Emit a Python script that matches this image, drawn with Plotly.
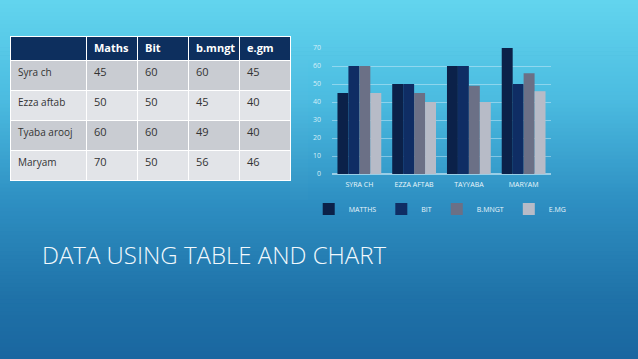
import plotly.graph_objects as go

# ---- data ----
students = ["Syra ch", "Ezza aftab", "Tyaba arooj", "Maryam"]
subjects = ["Maths", "Bit", "b.mngt", "e.gm"]
maths = [45, 50, 60, 70]
bit = [60, 50, 60, 50]
bmngt = [60, 45, 49, 56]
egm = [45, 40, 40, 46]

chart_categories = ["SYRA CH", "EZZA AFTAB", "TAYYABA", "MARYAM"]
legend_names = ["MATTHS", "BIT", "B.MNGT", "E.MG"]
y_ticks = [0, 10, 20, 30, 40, 50, 60, 70]

title_text = "DATA USING TABLE AND CHART"

W, H = 638, 359

# background gradient stops (paper y from bottom, colour)
bg_stops = [(0.0, (26, 102, 160)), (0.17, (31, 114, 168)), (0.44, (46, 143, 194)),
            (0.72, (75, 187, 224)), (1.0, (98, 212, 238))]


def bg_color(t):
    for (t0, c0), (t1, c1) in zip(bg_stops[:-1], bg_stops[1:]):
        if t0 <= t <= t1:
            f = (t - t0) / (t1 - t0)
            return "rgb(%d,%d,%d)" % tuple(round(a + (b - a) * f) for a, b in zip(c0, c1))
    return "rgb(%d,%d,%d)" % bg_stops[-1][1]


NB = 90
bg_shapes = []
for i in range(NB):
    y0 = i / NB
    y1 = (i + 1) / NB
    bg_shapes.append(dict(type="rect", xref="paper", yref="paper", x0=-0.05, x1=1.05,
                          y0=y0 - (0.05 if i == 0 else 0),
                          y1=y1 + (0.05 if i == NB - 1 else 0.002), layer="below",
                          fillcolor=bg_color((y0 + y1) / 2), line=dict(width=0)))

fig = go.Figure()

# ---- bars ----
bar_colors = ["#0b2149", "#0f2d64", "#6b7086", "#b7bbc7"]
for name, vals, col in zip(legend_names, [maths, bit, bmngt, egm], bar_colors):
    fig.add_trace(go.Bar(
        x=chart_categories, y=vals, name=name,
        marker=dict(color=col, line=dict(width=0))))

# ---- table ----
header_vals = [""] + subjects
cell_cols = [students, maths, bit, bmngt, egm]
row_fill = ["#c9ccd2", "#e2e4e8", "#c9ccd2", "#e2e4e8"]
fig.add_trace(go.Table(
    domain=dict(x=[10 / W, 290 / W], y=[(H - 200) / H, (H - 36) / H]),
    columnwidth=[76, 51, 51, 51, 51],
    header=dict(values=header_vals, fill_color="#0d2f5e",
                line=dict(color="white", width=1),
                align="left", height=24,
                font=dict(family="Open Sans", size=11, color="white", weight="bold")),
    cells=dict(values=cell_cols, fill_color=[row_fill] * 5,
               line=dict(color="white", width=1),
               align="left", height=30,
               font=dict(family="Open Sans", size=[10, 11, 11, 11, 11], color="#333333")),
))

fig.update_layout(
    width=W, height=H,
    margin=dict(l=0, r=0, t=0, b=0, pad=0, autoexpand=False),
    paper_bgcolor="#3aa3d0",
    plot_bgcolor="rgba(0,0,0,0)",
    showlegend=True,
    shapes=bg_shapes,
    barmode="group", bargap=0.2, bargroupgap=0,
    xaxis=dict(domain=[332 / W, 551 / W], showgrid=False, automargin=False,
               showline=False, ticks="", ticklabelstandoff=5, fixedrange=True,
               tickfont=dict(family="Open Sans", size=7, color="#eaf6fb")),
    yaxis=dict(domain=[(H - 174) / H, (H - 48) / H], automargin=False,
               range=[0, 70], tickvals=y_ticks, fixedrange=True,
               showgrid=True, gridcolor="rgba(220,240,250,0.45)", gridwidth=1,
               zeroline=True, zerolinecolor="rgba(220,240,250,0.6)",
               tickfont=dict(family="Open Sans", size=7, color="#d6eef8"),
               ticks="", ticklen=0, ticklabelstandoff=10),
    legend=dict(orientation="h", x=0.69, xanchor="center", y=(H - 209) / H,
                yanchor="middle", bgcolor="rgba(0,0,0,0)",
                font=dict(family="Open Sans", size=7, color="#eaf6fb"),
                itemwidth=30),
    annotations=[dict(text=title_text, x=40 / W, y=(H - 255) / H,
                      xref="paper", yref="paper", xanchor="left", yanchor="middle",
                      showarrow=False,
                      font=dict(family="Open Sans", size=24, color="#f2f9fd", weight=300))],
)

fig.write_html("out.html", config={"displayModeBar": False},
               post_script="document.body.style.margin='0';document.body.style.overflow='hidden';")
